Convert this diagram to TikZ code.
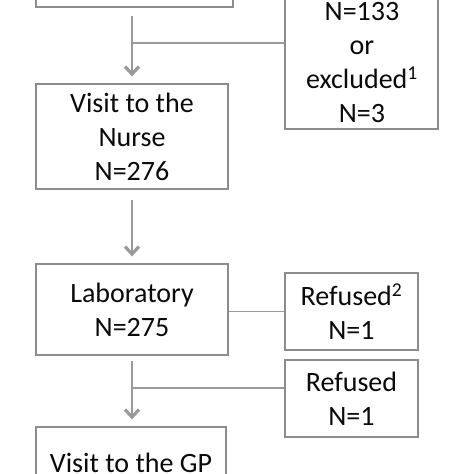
\documentclass[tikz,border=0pt]{standalone}
\usepackage{fontspec}
\setmainfont{Carlito}
\usetikzlibrary{arrows.meta}
\definecolor{boxgrey}{HTML}{8C8C8C}
\definecolor{linegrey}{HTML}{9A9A9A}
\definecolor{txt}{HTML}{0A0A0A}
\tikzset{
  box/.style={draw=boxgrey, line width=1.2pt, rectangle, inner sep=0pt, align=center,
    text=txt, font=\fontsize{28}{34}\selectfont},
  conn/.style={draw=linegrey, line width=1.5pt},
  arr/.style={conn, -{Straight Barb[length=7.5pt,width=14pt,line width=3.2pt]}},
  lbl/.style={text=txt, align=center, font=\fontsize{28}{34}\selectfont, inner sep=0pt}
}
\begin{document}
\begin{tikzpicture}[x=1pt,y=-1pt]
\useasboundingbox (0,0) rectangle (474,474);
\clip (0,0) rectangle (474,474);
\fill[white] (0,0) rectangle (474,474);
% boxes
\node[box, minimum width=197pt, minimum height=107pt] (top) at (134.5,-46.5) {};
\node[box, minimum width=153pt, minimum height=209pt] (excl) at (361.5,24.5) {};
\node[lbl] (exclt) at (362,63) {N=133\\or\\excluded\textsuperscript{1}\\N=3};
\node[box, minimum width=192pt, minimum height=105pt] (nurse) at (132,136.5) {Visit to the\\Nurse\\N=276};
\node[box, minimum width=192pt, minimum height=91pt] (lab) at (132,309.5) {Laboratory\\N=275};
\node[box, minimum width=133pt, minimum height=77pt] (ref2) at (351.5,311.5) {Refused\textsuperscript{2}\\N=1};
\node[box, minimum width=133pt, minimum height=77pt] (ref3) at (351.5,398.5) {Refused\\N=1};
\node[box, minimum width=190pt, minimum height=72pt] (gp) at (131,463) {Visit to the GP};
% connectors
\coordinate (j1) at (132,43);
\coordinate (j2) at (132,388);
\draw[arr, shorten <=8pt, shorten >=7pt] (top.south -| nurse.north) -- (nurse.north);
\draw[conn] (j1) -- (j1 -| excl.west);
\draw[arr, shorten <=10pt, shorten >=7pt] (nurse.south) -- (lab.north);
\draw[conn] (ref2.west -| lab.east) -- (ref2.west);
\draw[arr, shorten <=5pt, shorten >=7pt] (lab.south) -- (lab.south |- gp.north);
\draw[conn] (j2) -- (j2 -| ref3.west);
\end{tikzpicture}
\end{document}
